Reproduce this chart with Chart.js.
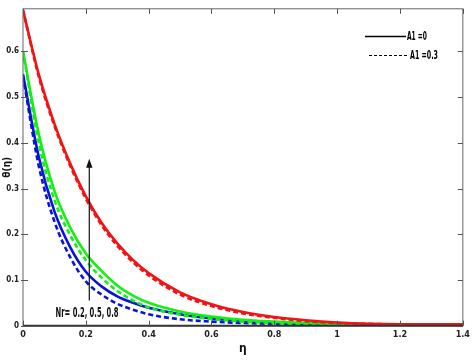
<!DOCTYPE html>
<html>
<head>
<meta charset="utf-8">
<script src="https://cdn.jsdelivr.net/npm/chart.js@4.4.0/dist/chart.umd.min.js"></script>
<style>
  html, body { margin: 0; padding: 0; background: #fff; }
  #wrap { width: 474px; height: 361px; }
</style>
</head>
<body>
<div id="wrap"><canvas id="c" width="474" height="361"></canvas></div>
<script>
// ---- data ----
const eta = [0, 0.05, 0.1, 0.15, 0.2, 0.25, 0.3, 0.35, 0.4, 0.5, 0.6, 0.7, 0.8, 0.9, 1.0, 1.1, 1.2, 1.3, 1.4];
const nr02_A0  = [0.55, 0.37, 0.25, 0.172, 0.118, 0.086, 0.064, 0.05, 0.039, 0.025, 0.016, 0.011, 0.007, 0.005, 0.004, 0.003, 0.003, 0.003, 0.003];
const nr02_A03 = [0.545, 0.35, 0.228, 0.15, 0.097, 0.068, 0.048, 0.035, 0.025, 0.014, 0.009, 0.006, 0.004, 0.003, 0.003, 0.003, 0.003, 0.003, 0.003];
const nr05_A0  = [0.60, 0.42, 0.295, 0.215, 0.158, 0.12, 0.088, 0.066, 0.05, 0.031, 0.02, 0.013, 0.009, 0.006, 0.004, 0.003, 0.003, 0.003, 0.003];
const nr05_A03 = [0.60, 0.40, 0.275, 0.198, 0.143, 0.105, 0.076, 0.055, 0.04, 0.024, 0.015, 0.009, 0.006, 0.004, 0.003, 0.003, 0.003, 0.003, 0.003];
const nr08_A0  = [0.69, 0.55, 0.442, 0.355, 0.283, 0.225, 0.18, 0.144, 0.115, 0.073, 0.047, 0.030, 0.019, 0.012, 0.007, 0.004, 0.003, 0.003, 0.003];
const nr08_A03 = [0.69, 0.545, 0.437, 0.35, 0.278, 0.22, 0.175, 0.139, 0.11, 0.068, 0.043, 0.027, 0.017, 0.010, 0.006, 0.004, 0.003, 0.003, 0.003];
const xTicks = [0, 0.2, 0.4, 0.6, 0.8, 1, 1.2, 1.4];
const yTicks = [0, 0.1, 0.2, 0.3, 0.4, 0.5, 0.6];
const legendLabels = ["A1 =0", "A1 =0.3"];
const annotationText = "Nr= 0.2, 0.5, 0.8";
const xTitle = "\u03b7";
const yTitle = "\u03b8(\u03b7)";

const RED = 'rgb(240,20,20)', GREEN = 'rgb(20,240,20)', BLUE = 'rgb(10,20,215)';
const FONT = '"Liberation Sans Narrow", "DejaVu Sans Condensed", "Liberation Sans", sans-serif';

function pts(arr) { return eta.map((e, i) => ({ x: e, y: arr[i] })); }
function ds(label, arr, color, dashed) {
  return {
    label, data: pts(arr), borderColor: color, backgroundColor: color,
    borderWidth: 2.6, pointRadius: 0, cubicInterpolationMode: 'monotone',
    borderDash: dashed ? [5, 3] : [], fill: false
  };
}

// frame with inward ticks
const framePlugin = {
  id: 'frame',
  afterDatasetsDraw(chart) {
    const { ctx, chartArea: a, scales: { x, y } } = chart;
    ctx.save();
    ctx.strokeStyle = '#666';
    ctx.lineWidth = 1;
    ctx.strokeRect(a.left, a.top, a.right - a.left, a.bottom - a.top);
    ctx.strokeStyle = '#333';
    ctx.lineWidth = 2;
    ctx.beginPath(); ctx.moveTo(a.left, a.bottom); ctx.lineTo(a.right, a.bottom); ctx.stroke();
    ctx.strokeStyle = '#555';
    ctx.lineWidth = 1;
    const L = 5;
    xTicks.forEach(v => {
      const px = Math.round(x.getPixelForValue(v)) + 0.5;
      ctx.beginPath();
      ctx.moveTo(px, a.bottom); ctx.lineTo(px, a.bottom - L);
      ctx.moveTo(px, a.top); ctx.lineTo(px, a.top + L);
      ctx.stroke();
    });
    yTicks.forEach(v => {
      const py = Math.round(y.getPixelForValue(v)) + 0.5;
      ctx.beginPath();
      ctx.moveTo(a.left - 2, py); ctx.lineTo(a.left + L, py);
      ctx.moveTo(a.right, py); ctx.lineTo(a.right - L, py);
      ctx.stroke();
    });
    ctx.restore();
  }
};

// arrow + Nr annotation + legend
const annoPlugin = {
  id: 'anno',
  afterDraw(chart) {
    const { ctx, scales: { x, y } } = chart;
    ctx.save();
    // arrow
    const ax = x.getPixelForValue(0.211);
    const y0 = y.getPixelForValue(0.055), y1 = y.getPixelForValue(0.365);
    ctx.strokeStyle = '#111'; ctx.fillStyle = '#111'; ctx.lineWidth = 1.2;
    ctx.beginPath(); ctx.moveTo(ax, y0); ctx.lineTo(ax, y1 + 7); ctx.stroke();
    ctx.beginPath(); ctx.moveTo(ax, y1); ctx.lineTo(ax - 3.2, y1 + 9); ctx.lineTo(ax + 3.2, y1 + 9); ctx.closePath(); ctx.fill();
    // text, condensed to the reference width
    const tx = x.getPixelForValue(0.204), ty = y.getPixelForValue(0.027);
    ctx.font = 'bold 14px ' + FONT;
    const w = ctx.measureText(annotationText).width;
    const s = Math.min(1, 63 / w);
    ctx.translate(tx, ty); ctx.scale(s, 1);
    ctx.textAlign = 'center'; ctx.textBaseline = 'middle';
    ctx.fillText(annotationText, 0, 0);
    ctx.restore();

    // legend
    ctx.save();
    ctx.strokeStyle = '#000'; ctx.fillStyle = '#000';
    ctx.lineWidth = 1.5;
    ctx.beginPath(); ctx.moveTo(365, 36.5); ctx.lineTo(406, 36.5); ctx.stroke();
    ctx.lineWidth = 1; ctx.setLineDash([3, 2]);
    ctx.beginPath(); ctx.moveTo(369, 55.5); ctx.lineTo(409, 55.5); ctx.stroke();
    ctx.setLineDash([]);
    ctx.font = 'bold 12px ' + FONT;
    ctx.textAlign = 'left'; ctx.textBaseline = 'middle';
    function cond(t, px, py, target) {
      const ww = ctx.measureText(t).width;
      const sc = Math.min(1, target / ww);
      ctx.save(); ctx.translate(px, py); ctx.scale(sc, 1); ctx.fillText(t, 0, 0); ctx.restore();
    }
    cond(legendLabels[0], 407, 36.5, 20);
    cond(legendLabels[1], 410, 55.5, 28);
    ctx.restore();
  }
};

new Chart(document.getElementById('c'), {
  type: 'line',
  data: {
    datasets: [
      ds('Nr=0.8, A1=0.3', nr08_A03, RED, true),
      ds('Nr=0.8, A1=0', nr08_A0, RED, false),
      ds('Nr=0.5, A1=0.3', nr05_A03, GREEN, true),
      ds('Nr=0.5, A1=0', nr05_A0, GREEN, false),
      ds('Nr=0.2, A1=0.3', nr02_A03, BLUE, true),
      ds('Nr=0.2, A1=0', nr02_A0, BLUE, false)
    ]
  },
  options: {
    responsive: false,
    animation: false,
    layout: { padding: { top: 3.5, right: 6, left: 0, bottom: 0 } },
    plugins: { legend: { display: false }, tooltip: { enabled: false } },
    scales: {
      x: {
        type: 'linear', min: 0, max: 1.4,
        afterBuildTicks(s) { s.ticks = xTicks.map(v => ({ value: v })); },
        afterFit(s) { s.height = 35.3; },
        grid: { display: false, drawTicks: false, tickLength: 0 }, border: { display: false },
        ticks: {
          padding: 4, color: '#222', maxRotation: 0, autoSkip: false,
          font: { family: FONT, size: 9, weight: 'bold' },
          callback: v => String(Number(v.toFixed(1)))
        },
        title: { display: true, text: xTitle, color: '#111', padding: { top: 0, bottom: 5 },
                 font: { family: FONT, size: 12, weight: 'bold' } }
      },
      y: {
        type: 'linear', min: 0, max: 0.693,
        afterBuildTicks(s) { s.ticks = yTicks.map(v => ({ value: v })); },
        afterFit(s) { s.width = 23; },
        grid: { display: false, drawTicks: false, tickLength: 0 }, border: { display: false },
        ticks: {
          padding: 4, color: '#222', autoSkip: false,
          font: { family: FONT, size: 8, weight: 'bold' },
          callback: v => String(Number(v.toFixed(1)))
        },
        title: { display: true, text: yTitle, color: '#111', padding: { top: 1, bottom: 0 },
                 font: { family: FONT, size: 10, weight: 'bold' } }
      }
    }
  },
  plugins: [framePlugin, annoPlugin]
});
</script>
</body>
</html>
